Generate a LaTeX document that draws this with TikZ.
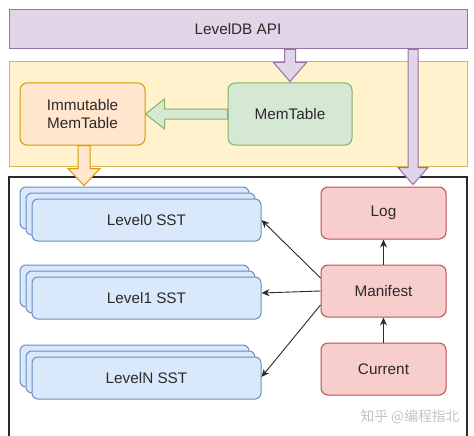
\documentclass[tikz,border=0pt]{standalone}
\usepackage{fontspec}
\setmainfont{Liberation Sans}
\newfontfamily\cjk{Noto Sans CJK SC}
\usetikzlibrary{calc,arrows.meta}
\definecolor{apifill}{HTML}{E1D5E7}\definecolor{apiline}{HTML}{9673A6}
\definecolor{yelfill}{HTML}{FFF2CC}\definecolor{yelline}{HTML}{D6B656}
\definecolor{orafill}{HTML}{FFE6CC}\definecolor{oraline}{HTML}{D79B00}
\definecolor{grefill}{HTML}{D5E8D4}\definecolor{greline}{HTML}{82B366}
\definecolor{blufill}{HTML}{DAE8FC}\definecolor{bluline}{HTML}{6C8EBF}
\definecolor{redfill}{HTML}{F8CECC}\definecolor{redline}{HTML}{B85450}
\definecolor{txt}{HTML}{2A2A2A}
\definecolor{wmgray}{HTML}{C4C4C4}
\begin{document}
\begin{tikzpicture}[x=1pt,y=-1pt,
  every node/.style={inner sep=0pt, text=txt, font=\fontsize{15.3}{18}\selectfont},
  panel/.style={draw=#1line, fill=#1fill, line width=1pt},
  box/.style={draw=#1line, fill=#1fill, line width=1pt, rounded corners=7pt, minimum width=125pt, align=center},
  sst/.style={draw=bluline, fill=blufill, line width=1pt, rounded corners=6pt, minimum width=229pt, minimum height=42pt},
  conn/.style={draw=txt, line width=0.9pt, -{Stealth[length=8pt,width=7pt]}},
  blockarrow/.style={draw=#1line, fill=#1fill, line width=1pt, line join=miter}
]
\useasboundingbox (0,0) rectangle (474,436);
% panels
\node[panel=api, minimum width=458pt, minimum height=39pt] (api) at (238,29.5) {LevelDB API};
\node[panel=yel, minimum width=458pt, minimum height=104pt] (mid) at (238,114) {};
\node[draw=txt, fill=white, line width=1.2pt, minimum width=458pt, minimum height=270pt] (disk) at (238,312) {};
% memtables
\node[box=ora, minimum height=62pt] (imm) at (82.5,114) {Immutable\\MemTable};
\node[box=gre, minimum height=62pt, minimum width=124pt] (mem) at (290,114) {MemTable};
% SST stacks
\foreach \n/\cy/\lbl in {l0/220/Level0 SST, l1/298/Level1 SST, ln/378/LevelN SST}{
  \node[sst] (\n c) at (134.5,\cy-12) {};
  \node[sst] (\n b) at (140.5,\cy-6) {};
  \node[sst] (\n) at (146.5,\cy) {\lbl};
}
% red boxes
\node[box=red, minimum height=52pt] (log) at (383.5,213) {Log};
\node[box=red, minimum height=52pt] (man) at (383.5,291) {Manifest};
\node[box=red, minimum height=52pt] (cur) at (383.5,369) {Current};
% block arrows
\path[blockarrow=gre] let \p1=(mem.west), \p2=(imm.east) in
  (\x1,\y1-5) -- (\x2+19,\y1-5) -- (\x2+19,\y1-15) -- (\x2,\y2) -- (\x2+19,\y1+15) -- (\x2+19,\y1+5) -- (\x1,\y1+5) -- cycle;
\path[blockarrow=api] let \p1=(mem.north |- api.south), \p2=($(mem.north)+(0,-1)$) in
  (\x1-5.5,\y1) -- (\x1-5.5,\y2+19) -- (\x1-16.5,\y2+19) -- (\x2,\y2) -- (\x1+16.5,\y2+19) -- (\x1+5.5,\y2+19) -- (\x1+5.5,\y1) -- cycle;
\path[blockarrow=api] let \p1=($(api.south)+(175,0)$), \p2=($(log.north)+(29.5,-2)$) in
  (\x1-5,\y1) -- (\x1-5,\y2+17) -- (\x1-15,\y2+17) -- (\x1,\y2) -- (\x1+15,\y2+17) -- (\x1+5,\y2+17) -- (\x1+5,\y1) -- cycle;
\path[blockarrow=ora] let \p1=($(imm.south)+(1.5,0)$), \p2=($(imm.south)+(1.5,40)$) in
  (\x1-6,\y1) -- (\x1-6,\y2+17) -- (\x1-16,\y2+17) -- (\x2,\y2) -- (\x1+16,\y2+17) -- (\x1+6,\y2+17) -- (\x1+6,\y1) -- cycle;
% connectors
\draw[conn] (man.north) -- (log.south);
\draw[conn] (cur.north) -- (man.north |- man.south);
\draw[conn] ($(man.west)+(0,-13)$) -- (l0.east);
\draw[conn] (man.west) -- ($(l1.east)+(0,-5)$);
\draw[conn] ($(man.west)+(0,14)$) -- ($(ln.east)+(0,-1)$);
% watermark
\node[text=wmgray, font=\cjk\fontsize{13.8}{16}\selectfont] (wm) at (410,417) {知乎 @编程指北};
\end{tikzpicture}
\end{document}
